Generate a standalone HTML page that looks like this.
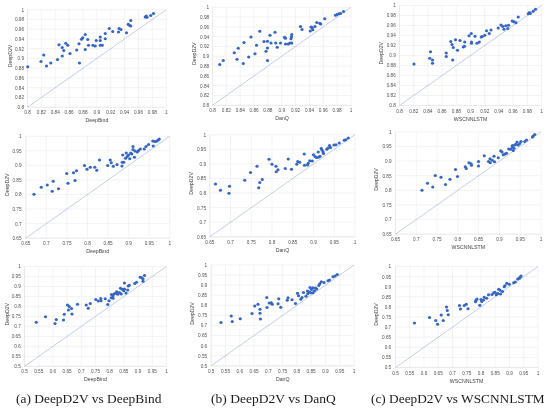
<!DOCTYPE html>
<html><head><meta charset="utf-8"><title>DeepD2V comparison</title>
<style>
html,body{margin:0;padding:0;background:#fff;}
body{width:550px;height:412px;overflow:hidden;position:relative;font-family:"Liberation Sans",sans-serif;}
svg{position:absolute;left:0;top:0;filter:blur(0.35px);}
.tk{font-family:"Liberation Sans",sans-serif;font-size:4.7px;fill:#505050;}
.ti{font-family:"Liberation Sans",sans-serif;font-size:5.2px;fill:#444;}
.cap{position:absolute;white-space:nowrap;font-family:"Liberation Serif",serif;font-size:13.3px;color:#1a1a1a;line-height:14px;transform-origin:0 0;}
</style></head><body>
<svg width="550" height="412" viewBox="0 0 550 412">

<g>
<path d="M27.50 9.70V107.20M27.50 107.20H166.20M41.37 9.70V107.20M27.50 97.45H166.20M55.24 9.70V107.20M27.50 87.70H166.20M69.11 9.70V107.20M27.50 77.95H166.20M82.98 9.70V107.20M27.50 68.20H166.20M96.85 9.70V107.20M27.50 58.45H166.20M110.72 9.70V107.20M27.50 48.70H166.20M124.59 9.70V107.20M27.50 38.95H166.20M138.46 9.70V107.20M27.50 29.20H166.20M152.33 9.70V107.20M27.50 19.45H166.20M166.20 9.70V107.20M27.50 9.70H166.20" stroke="#eeeeee" stroke-width="0.7" fill="none"/>
<path d="M27.50 9.70V107.20H166.20" stroke="#e6e6e6" stroke-width="0.7" fill="none"/>
<line x1="27.50" y1="107.20" x2="166.20" y2="9.70" stroke="#9fb4e2" stroke-width="0.65"/>
<text class="tk" x="27.50" y="114.20" text-anchor="middle">0.8</text>
<text class="tk" x="24.00" y="109.10" text-anchor="end">0.8</text>
<text class="tk" x="41.37" y="114.20" text-anchor="middle">0.82</text>
<text class="tk" x="24.00" y="99.35" text-anchor="end">0.82</text>
<text class="tk" x="55.24" y="114.20" text-anchor="middle">0.84</text>
<text class="tk" x="24.00" y="89.60" text-anchor="end">0.84</text>
<text class="tk" x="69.11" y="114.20" text-anchor="middle">0.86</text>
<text class="tk" x="24.00" y="79.85" text-anchor="end">0.86</text>
<text class="tk" x="82.98" y="114.20" text-anchor="middle">0.88</text>
<text class="tk" x="24.00" y="70.10" text-anchor="end">0.88</text>
<text class="tk" x="96.85" y="114.20" text-anchor="middle">0.9</text>
<text class="tk" x="24.00" y="60.35" text-anchor="end">0.9</text>
<text class="tk" x="110.72" y="114.20" text-anchor="middle">0.92</text>
<text class="tk" x="24.00" y="50.60" text-anchor="end">0.92</text>
<text class="tk" x="124.59" y="114.20" text-anchor="middle">0.94</text>
<text class="tk" x="24.00" y="40.85" text-anchor="end">0.94</text>
<text class="tk" x="138.46" y="114.20" text-anchor="middle">0.96</text>
<text class="tk" x="24.00" y="31.10" text-anchor="end">0.96</text>
<text class="tk" x="152.33" y="114.20" text-anchor="middle">0.98</text>
<text class="tk" x="24.00" y="21.35" text-anchor="end">0.98</text>
<text class="tk" x="166.20" y="114.20" text-anchor="middle">1</text>
<text class="tk" x="24.00" y="11.60" text-anchor="end">1</text>
<text class="ti" x="96.90" y="121.80" text-anchor="middle">DeepBind</text>
<text class="ti" transform="translate(11.50 56.00) rotate(-90)" text-anchor="middle">DeepD2V</text>
<circle cx="27.75" cy="66.75" r="1.6" fill="#3566c4"/>
<circle cx="41.00" cy="61.50" r="1.6" fill="#3566c4"/>
<circle cx="43.75" cy="55.00" r="1.6" fill="#3566c4"/>
<circle cx="46.50" cy="66.00" r="1.6" fill="#3566c4"/>
<circle cx="50.75" cy="63.00" r="1.6" fill="#3566c4"/>
<circle cx="57.50" cy="59.50" r="1.6" fill="#3566c4"/>
<circle cx="59.00" cy="44.75" r="1.6" fill="#3566c4"/>
<circle cx="62.25" cy="56.00" r="1.6" fill="#3566c4"/>
<circle cx="62.25" cy="47.50" r="1.6" fill="#3566c4"/>
<circle cx="63.75" cy="50.50" r="1.6" fill="#3566c4"/>
<circle cx="65.75" cy="43.25" r="1.6" fill="#3566c4"/>
<circle cx="67.75" cy="45.25" r="1.6" fill="#3566c4"/>
<circle cx="70.00" cy="53.50" r="1.6" fill="#3566c4"/>
<circle cx="76.75" cy="50.00" r="1.6" fill="#3566c4"/>
<circle cx="79.00" cy="43.75" r="1.6" fill="#3566c4"/>
<circle cx="79.50" cy="63.00" r="1.6" fill="#3566c4"/>
<circle cx="81.50" cy="39.25" r="1.6" fill="#3566c4"/>
<circle cx="82.75" cy="37.75" r="1.6" fill="#3566c4"/>
<circle cx="85.25" cy="34.50" r="1.6" fill="#3566c4"/>
<circle cx="85.25" cy="49.50" r="1.6" fill="#3566c4"/>
<circle cx="87.75" cy="39.50" r="1.6" fill="#3566c4"/>
<circle cx="88.50" cy="45.25" r="1.6" fill="#3566c4"/>
<circle cx="93.00" cy="45.25" r="1.6" fill="#3566c4"/>
<circle cx="95.25" cy="46.00" r="1.6" fill="#3566c4"/>
<circle cx="96.25" cy="40.50" r="1.6" fill="#3566c4"/>
<circle cx="100.25" cy="37.00" r="1.6" fill="#3566c4"/>
<circle cx="100.25" cy="40.50" r="1.6" fill="#3566c4"/>
<circle cx="100.25" cy="45.25" r="1.6" fill="#3566c4"/>
<circle cx="102.25" cy="45.25" r="1.6" fill="#3566c4"/>
<circle cx="105.25" cy="33.50" r="1.6" fill="#3566c4"/>
<circle cx="105.25" cy="38.75" r="1.6" fill="#3566c4"/>
<circle cx="109.25" cy="28.50" r="1.6" fill="#3566c4"/>
<circle cx="112.75" cy="31.50" r="1.6" fill="#3566c4"/>
<circle cx="118.50" cy="32.00" r="1.6" fill="#3566c4"/>
<circle cx="119.00" cy="28.50" r="1.6" fill="#3566c4"/>
<circle cx="121.00" cy="29.50" r="1.6" fill="#3566c4"/>
<circle cx="126.50" cy="32.75" r="1.6" fill="#3566c4"/>
<circle cx="128.25" cy="24.25" r="1.6" fill="#3566c4"/>
<circle cx="129.50" cy="25.25" r="1.6" fill="#3566c4"/>
<circle cx="130.75" cy="26.00" r="1.6" fill="#3566c4"/>
<circle cx="130.75" cy="20.50" r="1.6" fill="#3566c4"/>
<circle cx="145.25" cy="17.00" r="1.6" fill="#3566c4"/>
<circle cx="146.25" cy="16.00" r="1.6" fill="#3566c4"/>
<circle cx="147.00" cy="17.25" r="1.6" fill="#3566c4"/>
<circle cx="150.75" cy="15.50" r="1.6" fill="#3566c4"/>
<circle cx="153.50" cy="13.50" r="1.6" fill="#3566c4"/>
</g>
<g>
<path d="M212.50 7.20V105.30M212.50 105.30H351.00M226.35 7.20V105.30M212.50 95.49H351.00M240.20 7.20V105.30M212.50 85.68H351.00M254.05 7.20V105.30M212.50 75.87H351.00M267.90 7.20V105.30M212.50 66.06H351.00M281.75 7.20V105.30M212.50 56.25H351.00M295.60 7.20V105.30M212.50 46.44H351.00M309.45 7.20V105.30M212.50 36.63H351.00M323.30 7.20V105.30M212.50 26.82H351.00M337.15 7.20V105.30M212.50 17.01H351.00M351.00 7.20V105.30M212.50 7.20H351.00" stroke="#eeeeee" stroke-width="0.7" fill="none"/>
<path d="M212.50 7.20V105.30H351.00" stroke="#e6e6e6" stroke-width="0.7" fill="none"/>
<line x1="212.50" y1="105.30" x2="351.00" y2="7.20" stroke="#9fb4e2" stroke-width="0.65"/>
<text class="tk" x="212.50" y="111.80" text-anchor="middle">0.8</text>
<text class="tk" x="209.20" y="107.20" text-anchor="end">0.8</text>
<text class="tk" x="226.35" y="111.80" text-anchor="middle">0.82</text>
<text class="tk" x="209.20" y="97.39" text-anchor="end">0.82</text>
<text class="tk" x="240.20" y="111.80" text-anchor="middle">0.84</text>
<text class="tk" x="209.20" y="87.58" text-anchor="end">0.84</text>
<text class="tk" x="254.05" y="111.80" text-anchor="middle">0.86</text>
<text class="tk" x="209.20" y="77.77" text-anchor="end">0.86</text>
<text class="tk" x="267.90" y="111.80" text-anchor="middle">0.88</text>
<text class="tk" x="209.20" y="67.96" text-anchor="end">0.88</text>
<text class="tk" x="281.75" y="111.80" text-anchor="middle">0.9</text>
<text class="tk" x="209.20" y="58.15" text-anchor="end">0.9</text>
<text class="tk" x="295.60" y="111.80" text-anchor="middle">0.92</text>
<text class="tk" x="209.20" y="48.34" text-anchor="end">0.92</text>
<text class="tk" x="309.45" y="111.80" text-anchor="middle">0.94</text>
<text class="tk" x="209.20" y="38.53" text-anchor="end">0.94</text>
<text class="tk" x="323.30" y="111.80" text-anchor="middle">0.96</text>
<text class="tk" x="209.20" y="28.72" text-anchor="end">0.96</text>
<text class="tk" x="337.15" y="111.80" text-anchor="middle">0.98</text>
<text class="tk" x="209.20" y="18.91" text-anchor="end">0.98</text>
<text class="tk" x="351.00" y="111.80" text-anchor="middle">1</text>
<text class="tk" x="209.20" y="9.10" text-anchor="end">1</text>
<text class="ti" x="282.05" y="119.50" text-anchor="middle">DanQ</text>
<text class="ti" transform="translate(196.30 53.75) rotate(-90)" text-anchor="middle">DeepD2V</text>
<circle cx="219.75" cy="64.50" r="1.6" fill="#3566c4"/>
<circle cx="223.25" cy="60.50" r="1.6" fill="#3566c4"/>
<circle cx="234.25" cy="52.75" r="1.6" fill="#3566c4"/>
<circle cx="237.00" cy="59.25" r="1.6" fill="#3566c4"/>
<circle cx="238.25" cy="48.25" r="1.6" fill="#3566c4"/>
<circle cx="243.25" cy="63.50" r="1.6" fill="#3566c4"/>
<circle cx="244.00" cy="42.50" r="1.6" fill="#3566c4"/>
<circle cx="248.75" cy="57.00" r="1.6" fill="#3566c4"/>
<circle cx="251.00" cy="37.00" r="1.6" fill="#3566c4"/>
<circle cx="255.00" cy="53.75" r="1.6" fill="#3566c4"/>
<circle cx="256.50" cy="45.25" r="1.6" fill="#3566c4"/>
<circle cx="259.75" cy="31.25" r="1.6" fill="#3566c4"/>
<circle cx="264.00" cy="41.50" r="1.6" fill="#3566c4"/>
<circle cx="266.00" cy="51.25" r="1.6" fill="#3566c4"/>
<circle cx="267.50" cy="41.25" r="1.6" fill="#3566c4"/>
<circle cx="267.50" cy="48.00" r="1.6" fill="#3566c4"/>
<circle cx="267.50" cy="60.50" r="1.6" fill="#3566c4"/>
<circle cx="270.00" cy="35.25" r="1.6" fill="#3566c4"/>
<circle cx="271.00" cy="43.00" r="1.6" fill="#3566c4"/>
<circle cx="275.00" cy="32.25" r="1.6" fill="#3566c4"/>
<circle cx="275.75" cy="43.00" r="1.6" fill="#3566c4"/>
<circle cx="277.25" cy="47.25" r="1.6" fill="#3566c4"/>
<circle cx="280.50" cy="43.00" r="1.6" fill="#3566c4"/>
<circle cx="284.50" cy="37.25" r="1.6" fill="#3566c4"/>
<circle cx="285.50" cy="38.25" r="1.6" fill="#3566c4"/>
<circle cx="285.50" cy="44.00" r="1.6" fill="#3566c4"/>
<circle cx="288.25" cy="44.00" r="1.6" fill="#3566c4"/>
<circle cx="290.00" cy="43.00" r="1.6" fill="#3566c4"/>
<circle cx="291.75" cy="43.00" r="1.6" fill="#3566c4"/>
<circle cx="291.00" cy="38.75" r="1.6" fill="#3566c4"/>
<circle cx="291.50" cy="36.75" r="1.6" fill="#3566c4"/>
<circle cx="291.75" cy="34.50" r="1.6" fill="#3566c4"/>
<circle cx="300.50" cy="26.50" r="1.6" fill="#3566c4"/>
<circle cx="302.00" cy="29.50" r="1.6" fill="#3566c4"/>
<circle cx="310.25" cy="31.00" r="1.6" fill="#3566c4"/>
<circle cx="311.00" cy="27.00" r="1.6" fill="#3566c4"/>
<circle cx="312.25" cy="27.75" r="1.6" fill="#3566c4"/>
<circle cx="312.75" cy="29.75" r="1.6" fill="#3566c4"/>
<circle cx="315.00" cy="26.50" r="1.6" fill="#3566c4"/>
<circle cx="316.75" cy="22.50" r="1.6" fill="#3566c4"/>
<circle cx="319.75" cy="23.25" r="1.6" fill="#3566c4"/>
<circle cx="320.75" cy="24.00" r="1.6" fill="#3566c4"/>
<circle cx="324.75" cy="18.75" r="1.6" fill="#3566c4"/>
<circle cx="335.50" cy="15.25" r="1.6" fill="#3566c4"/>
<circle cx="337.00" cy="14.50" r="1.6" fill="#3566c4"/>
<circle cx="338.75" cy="13.75" r="1.6" fill="#3566c4"/>
<circle cx="340.50" cy="13.50" r="1.6" fill="#3566c4"/>
<circle cx="343.50" cy="11.50" r="1.6" fill="#3566c4"/>
</g>
<g>
<path d="M399.50 5.50V105.50M399.50 105.50H541.50M413.70 5.50V105.50M399.50 95.50H541.50M427.90 5.50V105.50M399.50 85.50H541.50M442.10 5.50V105.50M399.50 75.50H541.50M456.30 5.50V105.50M399.50 65.50H541.50M470.50 5.50V105.50M399.50 55.50H541.50M484.70 5.50V105.50M399.50 45.50H541.50M498.90 5.50V105.50M399.50 35.50H541.50M513.10 5.50V105.50M399.50 25.50H541.50M527.30 5.50V105.50M399.50 15.50H541.50M541.50 5.50V105.50M399.50 5.50H541.50" stroke="#eeeeee" stroke-width="0.7" fill="none"/>
<path d="M399.50 5.50V105.50H541.50" stroke="#e6e6e6" stroke-width="0.7" fill="none"/>
<line x1="399.50" y1="105.50" x2="541.50" y2="5.50" stroke="#9fb4e2" stroke-width="0.65"/>
<text class="tk" x="399.50" y="112.50" text-anchor="middle">0.8</text>
<text class="tk" x="395.80" y="107.40" text-anchor="end">0.8</text>
<text class="tk" x="413.70" y="112.50" text-anchor="middle">0.82</text>
<text class="tk" x="395.80" y="97.40" text-anchor="end">0.82</text>
<text class="tk" x="427.90" y="112.50" text-anchor="middle">0.84</text>
<text class="tk" x="395.80" y="87.40" text-anchor="end">0.84</text>
<text class="tk" x="442.10" y="112.50" text-anchor="middle">0.86</text>
<text class="tk" x="395.80" y="77.40" text-anchor="end">0.86</text>
<text class="tk" x="456.30" y="112.50" text-anchor="middle">0.88</text>
<text class="tk" x="395.80" y="67.40" text-anchor="end">0.88</text>
<text class="tk" x="470.50" y="112.50" text-anchor="middle">0.9</text>
<text class="tk" x="395.80" y="57.40" text-anchor="end">0.9</text>
<text class="tk" x="484.70" y="112.50" text-anchor="middle">0.92</text>
<text class="tk" x="395.80" y="47.40" text-anchor="end">0.92</text>
<text class="tk" x="498.90" y="112.50" text-anchor="middle">0.94</text>
<text class="tk" x="395.80" y="37.40" text-anchor="end">0.94</text>
<text class="tk" x="513.10" y="112.50" text-anchor="middle">0.96</text>
<text class="tk" x="395.80" y="27.40" text-anchor="end">0.96</text>
<text class="tk" x="527.30" y="112.50" text-anchor="middle">0.98</text>
<text class="tk" x="395.80" y="17.40" text-anchor="end">0.98</text>
<text class="tk" x="541.50" y="112.50" text-anchor="middle">1</text>
<text class="tk" x="395.80" y="7.40" text-anchor="end">1</text>
<text class="ti" x="470.50" y="120.50" text-anchor="middle">WSCNNLSTM</text>
<text class="ti" transform="translate(382.60 53.20) rotate(-90)" text-anchor="middle">DeepD2V</text>
<circle cx="414.00" cy="64.00" r="1.6" fill="#3566c4"/>
<circle cx="429.75" cy="58.25" r="1.6" fill="#3566c4"/>
<circle cx="430.50" cy="51.75" r="1.6" fill="#3566c4"/>
<circle cx="432.50" cy="60.00" r="1.6" fill="#3566c4"/>
<circle cx="432.50" cy="63.25" r="1.6" fill="#3566c4"/>
<circle cx="446.25" cy="53.00" r="1.6" fill="#3566c4"/>
<circle cx="446.25" cy="56.50" r="1.6" fill="#3566c4"/>
<circle cx="450.75" cy="41.50" r="1.6" fill="#3566c4"/>
<circle cx="452.00" cy="44.50" r="1.6" fill="#3566c4"/>
<circle cx="453.25" cy="47.50" r="1.6" fill="#3566c4"/>
<circle cx="452.75" cy="60.00" r="1.6" fill="#3566c4"/>
<circle cx="455.50" cy="39.75" r="1.6" fill="#3566c4"/>
<circle cx="457.50" cy="50.25" r="1.6" fill="#3566c4"/>
<circle cx="460.00" cy="40.50" r="1.6" fill="#3566c4"/>
<circle cx="463.25" cy="47.00" r="1.6" fill="#3566c4"/>
<circle cx="464.50" cy="46.25" r="1.6" fill="#3566c4"/>
<circle cx="464.75" cy="42.00" r="1.6" fill="#3566c4"/>
<circle cx="469.00" cy="35.75" r="1.6" fill="#3566c4"/>
<circle cx="471.25" cy="33.50" r="1.6" fill="#3566c4"/>
<circle cx="471.50" cy="42.00" r="1.6" fill="#3566c4"/>
<circle cx="471.50" cy="43.25" r="1.6" fill="#3566c4"/>
<circle cx="475.00" cy="36.25" r="1.6" fill="#3566c4"/>
<circle cx="477.00" cy="43.25" r="1.6" fill="#3566c4"/>
<circle cx="479.25" cy="42.00" r="1.6" fill="#3566c4"/>
<circle cx="481.25" cy="37.00" r="1.6" fill="#3566c4"/>
<circle cx="482.25" cy="36.50" r="1.6" fill="#3566c4"/>
<circle cx="484.75" cy="35.25" r="1.6" fill="#3566c4"/>
<circle cx="486.50" cy="30.75" r="1.6" fill="#3566c4"/>
<circle cx="489.25" cy="33.50" r="1.6" fill="#3566c4"/>
<circle cx="491.00" cy="30.00" r="1.6" fill="#3566c4"/>
<circle cx="498.25" cy="28.00" r="1.6" fill="#3566c4"/>
<circle cx="501.00" cy="25.00" r="1.6" fill="#3566c4"/>
<circle cx="502.75" cy="26.50" r="1.6" fill="#3566c4"/>
<circle cx="504.00" cy="29.25" r="1.6" fill="#3566c4"/>
<circle cx="505.75" cy="25.75" r="1.6" fill="#3566c4"/>
<circle cx="507.75" cy="28.50" r="1.6" fill="#3566c4"/>
<circle cx="508.50" cy="25.25" r="1.6" fill="#3566c4"/>
<circle cx="512.25" cy="21.00" r="1.6" fill="#3566c4"/>
<circle cx="514.00" cy="21.75" r="1.6" fill="#3566c4"/>
<circle cx="516.00" cy="22.75" r="1.6" fill="#3566c4"/>
<circle cx="518.25" cy="17.00" r="1.6" fill="#3566c4"/>
<circle cx="528.25" cy="13.75" r="1.6" fill="#3566c4"/>
<circle cx="529.50" cy="12.50" r="1.6" fill="#3566c4"/>
<circle cx="530.25" cy="13.50" r="1.6" fill="#3566c4"/>
<circle cx="533.25" cy="11.25" r="1.6" fill="#3566c4"/>
<circle cx="535.50" cy="9.25" r="1.6" fill="#3566c4"/>
</g>
<g>
<path d="M25.80 136.20V238.20M25.80 238.20H169.80M46.37 136.20V238.20M25.80 223.63H169.80M66.94 136.20V238.20M25.80 209.06H169.80M87.51 136.20V238.20M25.80 194.49H169.80M108.09 136.20V238.20M25.80 179.91H169.80M128.66 136.20V238.20M25.80 165.34H169.80M149.23 136.20V238.20M25.80 150.77H169.80M169.80 136.20V238.20M25.80 136.20H169.80" stroke="#eeeeee" stroke-width="0.7" fill="none"/>
<path d="M25.80 136.20V238.20H169.80" stroke="#e6e6e6" stroke-width="0.7" fill="none"/>
<line x1="25.80" y1="238.20" x2="169.80" y2="136.20" stroke="#9fb4e2" stroke-width="0.65"/>
<text class="tk" x="25.80" y="244.80" text-anchor="middle">0.65</text>
<text class="tk" x="21.50" y="240.10" text-anchor="end">0.65</text>
<text class="tk" x="46.37" y="244.80" text-anchor="middle">0.7</text>
<text class="tk" x="21.50" y="225.53" text-anchor="end">0.7</text>
<text class="tk" x="66.94" y="244.80" text-anchor="middle">0.75</text>
<text class="tk" x="21.50" y="210.96" text-anchor="end">0.75</text>
<text class="tk" x="87.51" y="244.80" text-anchor="middle">0.8</text>
<text class="tk" x="21.50" y="196.39" text-anchor="end">0.8</text>
<text class="tk" x="108.09" y="244.80" text-anchor="middle">0.85</text>
<text class="tk" x="21.50" y="181.81" text-anchor="end">0.85</text>
<text class="tk" x="128.66" y="244.80" text-anchor="middle">0.9</text>
<text class="tk" x="21.50" y="167.24" text-anchor="end">0.9</text>
<text class="tk" x="149.23" y="244.80" text-anchor="middle">0.95</text>
<text class="tk" x="21.50" y="152.67" text-anchor="end">0.95</text>
<text class="tk" x="169.80" y="244.80" text-anchor="middle">1</text>
<text class="tk" x="21.50" y="138.10" text-anchor="end">1</text>
<text class="ti" x="97.75" y="252.80" text-anchor="middle">DeepBind</text>
<text class="ti" transform="translate(8.60 184.75) rotate(-90)" text-anchor="middle">DeepD2V</text>
<circle cx="34.00" cy="194.25" r="1.6" fill="#3566c4"/>
<circle cx="41.25" cy="187.25" r="1.6" fill="#3566c4"/>
<circle cx="47.25" cy="185.00" r="1.6" fill="#3566c4"/>
<circle cx="52.25" cy="191.25" r="1.6" fill="#3566c4"/>
<circle cx="53.25" cy="181.25" r="1.6" fill="#3566c4"/>
<circle cx="58.50" cy="188.75" r="1.6" fill="#3566c4"/>
<circle cx="66.75" cy="173.50" r="1.6" fill="#3566c4"/>
<circle cx="68.00" cy="183.25" r="1.6" fill="#3566c4"/>
<circle cx="73.50" cy="172.75" r="1.6" fill="#3566c4"/>
<circle cx="75.00" cy="180.50" r="1.6" fill="#3566c4"/>
<circle cx="76.50" cy="170.75" r="1.6" fill="#3566c4"/>
<circle cx="84.50" cy="165.50" r="1.6" fill="#3566c4"/>
<circle cx="87.00" cy="169.25" r="1.6" fill="#3566c4"/>
<circle cx="90.25" cy="167.25" r="1.6" fill="#3566c4"/>
<circle cx="94.75" cy="167.25" r="1.6" fill="#3566c4"/>
<circle cx="96.75" cy="170.25" r="1.6" fill="#3566c4"/>
<circle cx="99.50" cy="160.00" r="1.6" fill="#3566c4"/>
<circle cx="107.75" cy="165.50" r="1.6" fill="#3566c4"/>
<circle cx="110.25" cy="160.00" r="1.6" fill="#3566c4"/>
<circle cx="111.25" cy="162.75" r="1.6" fill="#3566c4"/>
<circle cx="113.25" cy="166.25" r="1.6" fill="#3566c4"/>
<circle cx="117.00" cy="164.50" r="1.6" fill="#3566c4"/>
<circle cx="122.00" cy="166.00" r="1.6" fill="#3566c4"/>
<circle cx="122.25" cy="162.25" r="1.6" fill="#3566c4"/>
<circle cx="123.75" cy="162.25" r="1.6" fill="#3566c4"/>
<circle cx="122.75" cy="155.00" r="1.6" fill="#3566c4"/>
<circle cx="125.50" cy="158.25" r="1.6" fill="#3566c4"/>
<circle cx="126.25" cy="153.00" r="1.6" fill="#3566c4"/>
<circle cx="127.25" cy="156.50" r="1.6" fill="#3566c4"/>
<circle cx="128.50" cy="155.00" r="1.6" fill="#3566c4"/>
<circle cx="129.75" cy="158.75" r="1.6" fill="#3566c4"/>
<circle cx="130.75" cy="153.00" r="1.6" fill="#3566c4"/>
<circle cx="131.75" cy="154.00" r="1.6" fill="#3566c4"/>
<circle cx="133.00" cy="146.50" r="1.6" fill="#3566c4"/>
<circle cx="133.00" cy="149.50" r="1.6" fill="#3566c4"/>
<circle cx="134.50" cy="157.25" r="1.6" fill="#3566c4"/>
<circle cx="135.00" cy="151.00" r="1.6" fill="#3566c4"/>
<circle cx="137.25" cy="152.00" r="1.6" fill="#3566c4"/>
<circle cx="138.50" cy="150.50" r="1.6" fill="#3566c4"/>
<circle cx="140.25" cy="149.00" r="1.6" fill="#3566c4"/>
<circle cx="144.25" cy="149.00" r="1.6" fill="#3566c4"/>
<circle cx="146.00" cy="146.50" r="1.6" fill="#3566c4"/>
<circle cx="148.50" cy="144.50" r="1.6" fill="#3566c4"/>
<circle cx="152.75" cy="141.00" r="1.6" fill="#3566c4"/>
<circle cx="153.25" cy="146.00" r="1.6" fill="#3566c4"/>
<circle cx="154.75" cy="141.50" r="1.6" fill="#3566c4"/>
<circle cx="156.50" cy="141.25" r="1.6" fill="#3566c4"/>
<circle cx="158.00" cy="140.25" r="1.6" fill="#3566c4"/>
<circle cx="159.25" cy="139.00" r="1.6" fill="#3566c4"/>
</g>
<g>
<path d="M209.80 134.70V236.80M209.80 236.80H355.00M230.54 134.70V236.80M209.80 222.21H355.00M251.29 134.70V236.80M209.80 207.63H355.00M272.03 134.70V236.80M209.80 193.04H355.00M292.77 134.70V236.80M209.80 178.46H355.00M313.51 134.70V236.80M209.80 163.87H355.00M334.26 134.70V236.80M209.80 149.29H355.00M355.00 134.70V236.80M209.80 134.70H355.00" stroke="#eeeeee" stroke-width="0.7" fill="none"/>
<path d="M209.80 134.70V236.80H355.00" stroke="#e6e6e6" stroke-width="0.7" fill="none"/>
<line x1="209.80" y1="236.80" x2="355.00" y2="134.70" stroke="#9fb4e2" stroke-width="0.65"/>
<text class="tk" x="209.80" y="243.80" text-anchor="middle">0.65</text>
<text class="tk" x="206.00" y="238.70" text-anchor="end">0.65</text>
<text class="tk" x="230.54" y="243.80" text-anchor="middle">0.7</text>
<text class="tk" x="206.00" y="224.11" text-anchor="end">0.7</text>
<text class="tk" x="251.29" y="243.80" text-anchor="middle">0.75</text>
<text class="tk" x="206.00" y="209.53" text-anchor="end">0.75</text>
<text class="tk" x="272.03" y="243.80" text-anchor="middle">0.8</text>
<text class="tk" x="206.00" y="194.94" text-anchor="end">0.8</text>
<text class="tk" x="292.77" y="243.80" text-anchor="middle">0.85</text>
<text class="tk" x="206.00" y="180.36" text-anchor="end">0.85</text>
<text class="tk" x="313.51" y="243.80" text-anchor="middle">0.9</text>
<text class="tk" x="206.00" y="165.77" text-anchor="end">0.9</text>
<text class="tk" x="334.26" y="243.80" text-anchor="middle">0.95</text>
<text class="tk" x="206.00" y="151.19" text-anchor="end">0.95</text>
<text class="tk" x="355.00" y="243.80" text-anchor="middle">1</text>
<text class="tk" x="206.00" y="136.60" text-anchor="end">1</text>
<text class="ti" x="282.50" y="252.00" text-anchor="middle">DanQ</text>
<text class="ti" transform="translate(192.90 183.40) rotate(-90)" text-anchor="middle">DeepD2V</text>
<circle cx="215.50" cy="184.00" r="1.6" fill="#3566c4"/>
<circle cx="220.50" cy="190.25" r="1.6" fill="#3566c4"/>
<circle cx="229.00" cy="193.25" r="1.6" fill="#3566c4"/>
<circle cx="229.50" cy="186.25" r="1.6" fill="#3566c4"/>
<circle cx="244.75" cy="180.25" r="1.6" fill="#3566c4"/>
<circle cx="250.50" cy="172.50" r="1.6" fill="#3566c4"/>
<circle cx="257.00" cy="166.25" r="1.6" fill="#3566c4"/>
<circle cx="258.75" cy="187.75" r="1.6" fill="#3566c4"/>
<circle cx="259.75" cy="182.50" r="1.6" fill="#3566c4"/>
<circle cx="262.25" cy="179.50" r="1.6" fill="#3566c4"/>
<circle cx="269.00" cy="159.25" r="1.6" fill="#3566c4"/>
<circle cx="272.00" cy="164.25" r="1.6" fill="#3566c4"/>
<circle cx="276.00" cy="166.25" r="1.6" fill="#3566c4"/>
<circle cx="276.25" cy="171.75" r="1.6" fill="#3566c4"/>
<circle cx="278.00" cy="169.75" r="1.6" fill="#3566c4"/>
<circle cx="285.25" cy="168.50" r="1.6" fill="#3566c4"/>
<circle cx="288.25" cy="159.00" r="1.6" fill="#3566c4"/>
<circle cx="291.50" cy="169.25" r="1.6" fill="#3566c4"/>
<circle cx="296.75" cy="164.25" r="1.6" fill="#3566c4"/>
<circle cx="297.75" cy="161.50" r="1.6" fill="#3566c4"/>
<circle cx="299.75" cy="162.25" r="1.6" fill="#3566c4"/>
<circle cx="304.25" cy="154.00" r="1.6" fill="#3566c4"/>
<circle cx="304.50" cy="165.25" r="1.6" fill="#3566c4"/>
<circle cx="307.50" cy="165.00" r="1.6" fill="#3566c4"/>
<circle cx="308.25" cy="163.25" r="1.6" fill="#3566c4"/>
<circle cx="309.75" cy="160.75" r="1.6" fill="#3566c4"/>
<circle cx="312.25" cy="161.00" r="1.6" fill="#3566c4"/>
<circle cx="313.50" cy="154.75" r="1.6" fill="#3566c4"/>
<circle cx="315.00" cy="156.50" r="1.6" fill="#3566c4"/>
<circle cx="316.50" cy="157.50" r="1.6" fill="#3566c4"/>
<circle cx="318.25" cy="152.00" r="1.6" fill="#3566c4"/>
<circle cx="318.50" cy="157.25" r="1.6" fill="#3566c4"/>
<circle cx="320.00" cy="156.25" r="1.6" fill="#3566c4"/>
<circle cx="321.25" cy="148.50" r="1.6" fill="#3566c4"/>
<circle cx="322.00" cy="150.00" r="1.6" fill="#3566c4"/>
<circle cx="323.00" cy="151.75" r="1.6" fill="#3566c4"/>
<circle cx="323.50" cy="153.50" r="1.6" fill="#3566c4"/>
<circle cx="326.75" cy="149.25" r="1.6" fill="#3566c4"/>
<circle cx="328.00" cy="148.00" r="1.6" fill="#3566c4"/>
<circle cx="329.50" cy="145.50" r="1.6" fill="#3566c4"/>
<circle cx="330.50" cy="147.50" r="1.6" fill="#3566c4"/>
<circle cx="334.00" cy="145.00" r="1.6" fill="#3566c4"/>
<circle cx="336.00" cy="144.75" r="1.6" fill="#3566c4"/>
<circle cx="339.25" cy="143.00" r="1.6" fill="#3566c4"/>
<circle cx="344.25" cy="140.25" r="1.6" fill="#3566c4"/>
<circle cx="345.75" cy="139.75" r="1.6" fill="#3566c4"/>
<circle cx="348.25" cy="138.00" r="1.6" fill="#3566c4"/>
</g>
<g>
<path d="M395.50 131.80V234.20M395.50 234.20H541.00M416.29 131.80V234.20M395.50 219.57H541.00M437.07 131.80V234.20M395.50 204.94H541.00M457.86 131.80V234.20M395.50 190.31H541.00M478.64 131.80V234.20M395.50 175.69H541.00M499.43 131.80V234.20M395.50 161.06H541.00M520.21 131.80V234.20M395.50 146.43H541.00M541.00 131.80V234.20M395.50 131.80H541.00" stroke="#eeeeee" stroke-width="0.7" fill="none"/>
<path d="M395.50 131.80V234.20H541.00" stroke="#e6e6e6" stroke-width="0.7" fill="none"/>
<line x1="395.50" y1="234.20" x2="541.00" y2="131.80" stroke="#9fb4e2" stroke-width="0.65"/>
<text class="tk" x="395.50" y="240.80" text-anchor="middle">0.65</text>
<text class="tk" x="391.50" y="236.10" text-anchor="end">0.65</text>
<text class="tk" x="416.29" y="240.80" text-anchor="middle">0.7</text>
<text class="tk" x="391.50" y="221.47" text-anchor="end">0.7</text>
<text class="tk" x="437.07" y="240.80" text-anchor="middle">0.75</text>
<text class="tk" x="391.50" y="206.84" text-anchor="end">0.75</text>
<text class="tk" x="457.86" y="240.80" text-anchor="middle">0.8</text>
<text class="tk" x="391.50" y="192.21" text-anchor="end">0.8</text>
<text class="tk" x="478.64" y="240.80" text-anchor="middle">0.85</text>
<text class="tk" x="391.50" y="177.59" text-anchor="end">0.85</text>
<text class="tk" x="499.43" y="240.80" text-anchor="middle">0.9</text>
<text class="tk" x="391.50" y="162.96" text-anchor="end">0.9</text>
<text class="tk" x="520.21" y="240.80" text-anchor="middle">0.95</text>
<text class="tk" x="391.50" y="148.33" text-anchor="end">0.95</text>
<text class="tk" x="541.00" y="240.80" text-anchor="middle">1</text>
<text class="tk" x="391.50" y="133.70" text-anchor="end">1</text>
<text class="ti" x="468.25" y="249.00" text-anchor="middle">WSCNNLSTM</text>
<text class="ti" transform="translate(378.10 179.50) rotate(-90)" text-anchor="middle">DeepD2V</text>
<circle cx="422.00" cy="190.25" r="1.6" fill="#3566c4"/>
<circle cx="427.50" cy="183.25" r="1.6" fill="#3566c4"/>
<circle cx="432.75" cy="187.00" r="1.6" fill="#3566c4"/>
<circle cx="435.25" cy="175.50" r="1.6" fill="#3566c4"/>
<circle cx="441.00" cy="177.25" r="1.6" fill="#3566c4"/>
<circle cx="445.50" cy="184.50" r="1.6" fill="#3566c4"/>
<circle cx="450.00" cy="179.25" r="1.6" fill="#3566c4"/>
<circle cx="455.50" cy="169.50" r="1.6" fill="#3566c4"/>
<circle cx="457.50" cy="176.50" r="1.6" fill="#3566c4"/>
<circle cx="465.25" cy="166.75" r="1.6" fill="#3566c4"/>
<circle cx="466.25" cy="168.50" r="1.6" fill="#3566c4"/>
<circle cx="469.00" cy="162.75" r="1.6" fill="#3566c4"/>
<circle cx="471.00" cy="163.75" r="1.6" fill="#3566c4"/>
<circle cx="471.50" cy="165.25" r="1.6" fill="#3566c4"/>
<circle cx="478.50" cy="161.50" r="1.6" fill="#3566c4"/>
<circle cx="478.50" cy="166.00" r="1.6" fill="#3566c4"/>
<circle cx="484.25" cy="155.75" r="1.6" fill="#3566c4"/>
<circle cx="488.50" cy="161.50" r="1.6" fill="#3566c4"/>
<circle cx="490.00" cy="158.75" r="1.6" fill="#3566c4"/>
<circle cx="490.25" cy="162.75" r="1.6" fill="#3566c4"/>
<circle cx="492.25" cy="160.25" r="1.6" fill="#3566c4"/>
<circle cx="494.00" cy="156.25" r="1.6" fill="#3566c4"/>
<circle cx="494.50" cy="161.75" r="1.6" fill="#3566c4"/>
<circle cx="498.25" cy="157.75" r="1.6" fill="#3566c4"/>
<circle cx="500.75" cy="150.75" r="1.6" fill="#3566c4"/>
<circle cx="502.00" cy="152.00" r="1.6" fill="#3566c4"/>
<circle cx="503.25" cy="154.75" r="1.6" fill="#3566c4"/>
<circle cx="505.00" cy="154.00" r="1.6" fill="#3566c4"/>
<circle cx="506.50" cy="153.25" r="1.6" fill="#3566c4"/>
<circle cx="508.75" cy="149.00" r="1.6" fill="#3566c4"/>
<circle cx="510.75" cy="149.25" r="1.6" fill="#3566c4"/>
<circle cx="512.25" cy="147.00" r="1.6" fill="#3566c4"/>
<circle cx="512.50" cy="145.50" r="1.6" fill="#3566c4"/>
<circle cx="513.25" cy="150.50" r="1.6" fill="#3566c4"/>
<circle cx="514.00" cy="148.25" r="1.6" fill="#3566c4"/>
<circle cx="514.75" cy="145.00" r="1.6" fill="#3566c4"/>
<circle cx="516.00" cy="144.25" r="1.6" fill="#3566c4"/>
<circle cx="517.00" cy="142.00" r="1.6" fill="#3566c4"/>
<circle cx="518.25" cy="145.00" r="1.6" fill="#3566c4"/>
<circle cx="519.75" cy="143.50" r="1.6" fill="#3566c4"/>
<circle cx="521.00" cy="141.50" r="1.6" fill="#3566c4"/>
<circle cx="524.75" cy="141.50" r="1.6" fill="#3566c4"/>
<circle cx="526.50" cy="140.00" r="1.6" fill="#3566c4"/>
<circle cx="532.50" cy="137.00" r="1.6" fill="#3566c4"/>
<circle cx="533.25" cy="136.00" r="1.6" fill="#3566c4"/>
<circle cx="534.75" cy="134.50" r="1.6" fill="#3566c4"/>
</g>
<g>
<path d="M24.50 266.50V366.30M24.50 366.30H166.50M38.70 266.50V366.30M24.50 356.32H166.50M52.90 266.50V366.30M24.50 346.34H166.50M67.10 266.50V366.30M24.50 336.36H166.50M81.30 266.50V366.30M24.50 326.38H166.50M95.50 266.50V366.30M24.50 316.40H166.50M109.70 266.50V366.30M24.50 306.42H166.50M123.90 266.50V366.30M24.50 296.44H166.50M138.10 266.50V366.30M24.50 286.46H166.50M152.30 266.50V366.30M24.50 276.48H166.50M166.50 266.50V366.30M24.50 266.50H166.50" stroke="#eeeeee" stroke-width="0.7" fill="none"/>
<path d="M24.50 266.50V366.30H166.50" stroke="#e6e6e6" stroke-width="0.7" fill="none"/>
<line x1="24.50" y1="366.30" x2="166.50" y2="266.50" stroke="#9fb4e2" stroke-width="0.65"/>
<text class="tk" x="24.50" y="372.80" text-anchor="middle">0.5</text>
<text class="tk" x="20.80" y="368.20" text-anchor="end">0.5</text>
<text class="tk" x="38.70" y="372.80" text-anchor="middle">0.55</text>
<text class="tk" x="20.80" y="358.22" text-anchor="end">0.55</text>
<text class="tk" x="52.90" y="372.80" text-anchor="middle">0.6</text>
<text class="tk" x="20.80" y="348.24" text-anchor="end">0.6</text>
<text class="tk" x="67.10" y="372.80" text-anchor="middle">0.65</text>
<text class="tk" x="20.80" y="338.26" text-anchor="end">0.65</text>
<text class="tk" x="81.30" y="372.80" text-anchor="middle">0.7</text>
<text class="tk" x="20.80" y="328.28" text-anchor="end">0.7</text>
<text class="tk" x="95.50" y="372.80" text-anchor="middle">0.75</text>
<text class="tk" x="20.80" y="318.30" text-anchor="end">0.75</text>
<text class="tk" x="109.70" y="372.80" text-anchor="middle">0.8</text>
<text class="tk" x="20.80" y="308.32" text-anchor="end">0.8</text>
<text class="tk" x="123.90" y="372.80" text-anchor="middle">0.85</text>
<text class="tk" x="20.80" y="298.34" text-anchor="end">0.85</text>
<text class="tk" x="138.10" y="372.80" text-anchor="middle">0.9</text>
<text class="tk" x="20.80" y="288.36" text-anchor="end">0.9</text>
<text class="tk" x="152.30" y="372.80" text-anchor="middle">0.95</text>
<text class="tk" x="20.80" y="278.38" text-anchor="end">0.95</text>
<text class="tk" x="166.50" y="372.80" text-anchor="middle">1</text>
<text class="tk" x="20.80" y="268.40" text-anchor="end">1</text>
<text class="ti" x="95.50" y="380.80" text-anchor="middle">DeepBind</text>
<text class="ti" transform="translate(8.50 314.20) rotate(-90)" text-anchor="middle">DeepD2V</text>
<circle cx="36.25" cy="322.25" r="1.6" fill="#3566c4"/>
<circle cx="45.50" cy="316.75" r="1.6" fill="#3566c4"/>
<circle cx="55.00" cy="323.50" r="1.6" fill="#3566c4"/>
<circle cx="56.25" cy="319.50" r="1.6" fill="#3566c4"/>
<circle cx="63.50" cy="320.00" r="1.6" fill="#3566c4"/>
<circle cx="64.25" cy="314.25" r="1.6" fill="#3566c4"/>
<circle cx="67.50" cy="305.00" r="1.6" fill="#3566c4"/>
<circle cx="68.50" cy="310.00" r="1.6" fill="#3566c4"/>
<circle cx="69.25" cy="306.50" r="1.6" fill="#3566c4"/>
<circle cx="71.50" cy="308.50" r="1.6" fill="#3566c4"/>
<circle cx="72.00" cy="314.00" r="1.6" fill="#3566c4"/>
<circle cx="77.50" cy="304.25" r="1.6" fill="#3566c4"/>
<circle cx="86.25" cy="305.00" r="1.6" fill="#3566c4"/>
<circle cx="88.25" cy="308.25" r="1.6" fill="#3566c4"/>
<circle cx="90.25" cy="303.50" r="1.6" fill="#3566c4"/>
<circle cx="95.75" cy="299.50" r="1.6" fill="#3566c4"/>
<circle cx="98.25" cy="301.00" r="1.6" fill="#3566c4"/>
<circle cx="100.75" cy="298.50" r="1.6" fill="#3566c4"/>
<circle cx="101.00" cy="300.75" r="1.6" fill="#3566c4"/>
<circle cx="105.25" cy="298.75" r="1.6" fill="#3566c4"/>
<circle cx="107.75" cy="304.50" r="1.6" fill="#3566c4"/>
<circle cx="109.00" cy="300.75" r="1.6" fill="#3566c4"/>
<circle cx="111.25" cy="297.75" r="1.6" fill="#3566c4"/>
<circle cx="111.50" cy="294.50" r="1.6" fill="#3566c4"/>
<circle cx="113.00" cy="295.75" r="1.6" fill="#3566c4"/>
<circle cx="113.00" cy="298.25" r="1.6" fill="#3566c4"/>
<circle cx="114.25" cy="293.75" r="1.6" fill="#3566c4"/>
<circle cx="116.00" cy="293.25" r="1.6" fill="#3566c4"/>
<circle cx="116.75" cy="291.75" r="1.6" fill="#3566c4"/>
<circle cx="117.75" cy="294.25" r="1.6" fill="#3566c4"/>
<circle cx="119.50" cy="292.50" r="1.6" fill="#3566c4"/>
<circle cx="120.50" cy="288.25" r="1.6" fill="#3566c4"/>
<circle cx="121.25" cy="294.00" r="1.6" fill="#3566c4"/>
<circle cx="122.25" cy="289.25" r="1.6" fill="#3566c4"/>
<circle cx="123.75" cy="290.75" r="1.6" fill="#3566c4"/>
<circle cx="124.50" cy="283.00" r="1.6" fill="#3566c4"/>
<circle cx="124.50" cy="289.00" r="1.6" fill="#3566c4"/>
<circle cx="126.00" cy="293.00" r="1.6" fill="#3566c4"/>
<circle cx="127.75" cy="290.00" r="1.6" fill="#3566c4"/>
<circle cx="128.25" cy="286.00" r="1.6" fill="#3566c4"/>
<circle cx="129.25" cy="285.25" r="1.6" fill="#3566c4"/>
<circle cx="134.75" cy="283.50" r="1.6" fill="#3566c4"/>
<circle cx="136.50" cy="282.25" r="1.6" fill="#3566c4"/>
<circle cx="140.25" cy="277.25" r="1.6" fill="#3566c4"/>
<circle cx="141.75" cy="277.75" r="1.6" fill="#3566c4"/>
<circle cx="143.00" cy="279.00" r="1.6" fill="#3566c4"/>
<circle cx="143.00" cy="281.25" r="1.6" fill="#3566c4"/>
<circle cx="144.50" cy="275.50" r="1.6" fill="#3566c4"/>
</g>
<g>
<path d="M211.20 265.00V365.80M211.20 365.80H354.00M225.48 265.00V365.80M211.20 355.72H354.00M239.76 265.00V365.80M211.20 345.64H354.00M254.04 265.00V365.80M211.20 335.56H354.00M268.32 265.00V365.80M211.20 325.48H354.00M282.60 265.00V365.80M211.20 315.40H354.00M296.88 265.00V365.80M211.20 305.32H354.00M311.16 265.00V365.80M211.20 295.24H354.00M325.44 265.00V365.80M211.20 285.16H354.00M339.72 265.00V365.80M211.20 275.08H354.00M354.00 265.00V365.80M211.20 265.00H354.00" stroke="#eeeeee" stroke-width="0.7" fill="none"/>
<path d="M211.20 265.00V365.80H354.00" stroke="#e6e6e6" stroke-width="0.7" fill="none"/>
<line x1="211.20" y1="365.80" x2="354.00" y2="265.00" stroke="#9fb4e2" stroke-width="0.65"/>
<text class="tk" x="211.20" y="372.50" text-anchor="middle">0.5</text>
<text class="tk" x="207.20" y="367.70" text-anchor="end">0.5</text>
<text class="tk" x="225.48" y="372.50" text-anchor="middle">0.55</text>
<text class="tk" x="207.20" y="357.62" text-anchor="end">0.55</text>
<text class="tk" x="239.76" y="372.50" text-anchor="middle">0.6</text>
<text class="tk" x="207.20" y="347.54" text-anchor="end">0.6</text>
<text class="tk" x="254.04" y="372.50" text-anchor="middle">0.65</text>
<text class="tk" x="207.20" y="337.46" text-anchor="end">0.65</text>
<text class="tk" x="268.32" y="372.50" text-anchor="middle">0.7</text>
<text class="tk" x="207.20" y="327.38" text-anchor="end">0.7</text>
<text class="tk" x="282.60" y="372.50" text-anchor="middle">0.75</text>
<text class="tk" x="207.20" y="317.30" text-anchor="end">0.75</text>
<text class="tk" x="296.88" y="372.50" text-anchor="middle">0.8</text>
<text class="tk" x="207.20" y="307.22" text-anchor="end">0.8</text>
<text class="tk" x="311.16" y="372.50" text-anchor="middle">0.85</text>
<text class="tk" x="207.20" y="297.14" text-anchor="end">0.85</text>
<text class="tk" x="325.44" y="372.50" text-anchor="middle">0.9</text>
<text class="tk" x="207.20" y="287.06" text-anchor="end">0.9</text>
<text class="tk" x="339.72" y="372.50" text-anchor="middle">0.95</text>
<text class="tk" x="207.20" y="276.98" text-anchor="end">0.95</text>
<text class="tk" x="354.00" y="372.50" text-anchor="middle">1</text>
<text class="tk" x="207.20" y="266.90" text-anchor="end">1</text>
<text class="ti" x="282.75" y="380.50" text-anchor="middle">DanQ</text>
<text class="ti" transform="translate(194.10 313.50) rotate(-90)" text-anchor="middle">DeepD2V</text>
<circle cx="221.00" cy="322.50" r="1.6" fill="#3566c4"/>
<circle cx="231.25" cy="316.00" r="1.6" fill="#3566c4"/>
<circle cx="232.25" cy="321.50" r="1.6" fill="#3566c4"/>
<circle cx="240.25" cy="318.75" r="1.6" fill="#3566c4"/>
<circle cx="252.00" cy="313.50" r="1.6" fill="#3566c4"/>
<circle cx="254.75" cy="306.00" r="1.6" fill="#3566c4"/>
<circle cx="258.00" cy="304.25" r="1.6" fill="#3566c4"/>
<circle cx="260.00" cy="309.25" r="1.6" fill="#3566c4"/>
<circle cx="260.00" cy="313.25" r="1.6" fill="#3566c4"/>
<circle cx="260.50" cy="319.00" r="1.6" fill="#3566c4"/>
<circle cx="266.75" cy="297.50" r="1.6" fill="#3566c4"/>
<circle cx="267.00" cy="307.50" r="1.6" fill="#3566c4"/>
<circle cx="269.25" cy="303.00" r="1.6" fill="#3566c4"/>
<circle cx="271.25" cy="302.75" r="1.6" fill="#3566c4"/>
<circle cx="272.25" cy="304.25" r="1.6" fill="#3566c4"/>
<circle cx="278.00" cy="303.75" r="1.6" fill="#3566c4"/>
<circle cx="278.75" cy="298.75" r="1.6" fill="#3566c4"/>
<circle cx="280.75" cy="307.25" r="1.6" fill="#3566c4"/>
<circle cx="287.25" cy="300.25" r="1.6" fill="#3566c4"/>
<circle cx="288.00" cy="297.75" r="1.6" fill="#3566c4"/>
<circle cx="292.00" cy="299.75" r="1.6" fill="#3566c4"/>
<circle cx="295.50" cy="303.50" r="1.6" fill="#3566c4"/>
<circle cx="297.50" cy="293.25" r="1.6" fill="#3566c4"/>
<circle cx="298.50" cy="295.75" r="1.6" fill="#3566c4"/>
<circle cx="300.75" cy="299.25" r="1.6" fill="#3566c4"/>
<circle cx="302.00" cy="297.50" r="1.6" fill="#3566c4"/>
<circle cx="303.50" cy="292.50" r="1.6" fill="#3566c4"/>
<circle cx="306.00" cy="296.25" r="1.6" fill="#3566c4"/>
<circle cx="307.50" cy="291.00" r="1.6" fill="#3566c4"/>
<circle cx="307.75" cy="293.75" r="1.6" fill="#3566c4"/>
<circle cx="309.25" cy="292.00" r="1.6" fill="#3566c4"/>
<circle cx="310.00" cy="287.50" r="1.6" fill="#3566c4"/>
<circle cx="310.75" cy="292.75" r="1.6" fill="#3566c4"/>
<circle cx="311.50" cy="289.50" r="1.6" fill="#3566c4"/>
<circle cx="312.75" cy="287.75" r="1.6" fill="#3566c4"/>
<circle cx="313.00" cy="292.75" r="1.6" fill="#3566c4"/>
<circle cx="314.50" cy="290.75" r="1.6" fill="#3566c4"/>
<circle cx="315.50" cy="288.00" r="1.6" fill="#3566c4"/>
<circle cx="316.75" cy="289.00" r="1.6" fill="#3566c4"/>
<circle cx="318.75" cy="285.50" r="1.6" fill="#3566c4"/>
<circle cx="319.75" cy="283.75" r="1.6" fill="#3566c4"/>
<circle cx="321.25" cy="281.75" r="1.6" fill="#3566c4"/>
<circle cx="324.00" cy="282.50" r="1.6" fill="#3566c4"/>
<circle cx="328.00" cy="280.75" r="1.6" fill="#3566c4"/>
<circle cx="329.50" cy="280.00" r="1.6" fill="#3566c4"/>
<circle cx="333.00" cy="276.75" r="1.6" fill="#3566c4"/>
<circle cx="335.00" cy="276.00" r="1.6" fill="#3566c4"/>
<circle cx="337.25" cy="274.50" r="1.6" fill="#3566c4"/>
</g>
<g>
<path d="M395.50 266.50V367.50M395.50 367.50H538.00M409.75 266.50V367.50M395.50 357.40H538.00M424.00 266.50V367.50M395.50 347.30H538.00M438.25 266.50V367.50M395.50 337.20H538.00M452.50 266.50V367.50M395.50 327.10H538.00M466.75 266.50V367.50M395.50 317.00H538.00M481.00 266.50V367.50M395.50 306.90H538.00M495.25 266.50V367.50M395.50 296.80H538.00M509.50 266.50V367.50M395.50 286.70H538.00M523.75 266.50V367.50M395.50 276.60H538.00M538.00 266.50V367.50M395.50 266.50H538.00" stroke="#eeeeee" stroke-width="0.7" fill="none"/>
<path d="M395.50 266.50V367.50H538.00" stroke="#e6e6e6" stroke-width="0.7" fill="none"/>
<line x1="395.50" y1="367.50" x2="538.00" y2="266.50" stroke="#9fb4e2" stroke-width="0.65"/>
<text class="tk" x="395.50" y="374.50" text-anchor="middle">0.5</text>
<text class="tk" x="391.20" y="369.40" text-anchor="end">0.5</text>
<text class="tk" x="409.75" y="374.50" text-anchor="middle">0.55</text>
<text class="tk" x="391.20" y="359.30" text-anchor="end">0.55</text>
<text class="tk" x="424.00" y="374.50" text-anchor="middle">0.6</text>
<text class="tk" x="391.20" y="349.20" text-anchor="end">0.6</text>
<text class="tk" x="438.25" y="374.50" text-anchor="middle">0.65</text>
<text class="tk" x="391.20" y="339.10" text-anchor="end">0.65</text>
<text class="tk" x="452.50" y="374.50" text-anchor="middle">0.7</text>
<text class="tk" x="391.20" y="329.00" text-anchor="end">0.7</text>
<text class="tk" x="466.75" y="374.50" text-anchor="middle">0.75</text>
<text class="tk" x="391.20" y="318.90" text-anchor="end">0.75</text>
<text class="tk" x="481.00" y="374.50" text-anchor="middle">0.8</text>
<text class="tk" x="391.20" y="308.80" text-anchor="end">0.8</text>
<text class="tk" x="495.25" y="374.50" text-anchor="middle">0.85</text>
<text class="tk" x="391.20" y="298.70" text-anchor="end">0.85</text>
<text class="tk" x="509.50" y="374.50" text-anchor="middle">0.9</text>
<text class="tk" x="391.20" y="288.60" text-anchor="end">0.9</text>
<text class="tk" x="523.75" y="374.50" text-anchor="middle">0.95</text>
<text class="tk" x="391.20" y="278.50" text-anchor="end">0.95</text>
<text class="tk" x="538.00" y="374.50" text-anchor="middle">1</text>
<text class="tk" x="391.20" y="268.40" text-anchor="end">1</text>
<text class="ti" x="466.50" y="382.50" text-anchor="middle">WSCNNLSTM</text>
<text class="ti" transform="translate(377.90 314.50) rotate(-90)" text-anchor="middle">DeepD2V</text>
<circle cx="414.50" cy="323.00" r="1.6" fill="#3566c4"/>
<circle cx="429.50" cy="317.50" r="1.6" fill="#3566c4"/>
<circle cx="435.75" cy="320.50" r="1.6" fill="#3566c4"/>
<circle cx="437.50" cy="324.25" r="1.6" fill="#3566c4"/>
<circle cx="441.25" cy="315.00" r="1.6" fill="#3566c4"/>
<circle cx="443.25" cy="320.50" r="1.6" fill="#3566c4"/>
<circle cx="446.50" cy="307.00" r="1.6" fill="#3566c4"/>
<circle cx="447.25" cy="310.50" r="1.6" fill="#3566c4"/>
<circle cx="448.25" cy="314.75" r="1.6" fill="#3566c4"/>
<circle cx="459.50" cy="305.50" r="1.6" fill="#3566c4"/>
<circle cx="460.50" cy="309.00" r="1.6" fill="#3566c4"/>
<circle cx="464.25" cy="305.50" r="1.6" fill="#3566c4"/>
<circle cx="466.25" cy="304.25" r="1.6" fill="#3566c4"/>
<circle cx="468.00" cy="308.75" r="1.6" fill="#3566c4"/>
<circle cx="475.50" cy="301.75" r="1.6" fill="#3566c4"/>
<circle cx="476.00" cy="300.25" r="1.6" fill="#3566c4"/>
<circle cx="477.00" cy="299.00" r="1.6" fill="#3566c4"/>
<circle cx="479.75" cy="305.25" r="1.6" fill="#3566c4"/>
<circle cx="481.00" cy="299.50" r="1.6" fill="#3566c4"/>
<circle cx="481.75" cy="301.50" r="1.6" fill="#3566c4"/>
<circle cx="483.50" cy="300.00" r="1.6" fill="#3566c4"/>
<circle cx="484.25" cy="297.25" r="1.6" fill="#3566c4"/>
<circle cx="486.75" cy="298.25" r="1.6" fill="#3566c4"/>
<circle cx="488.50" cy="294.75" r="1.6" fill="#3566c4"/>
<circle cx="492.00" cy="294.50" r="1.6" fill="#3566c4"/>
<circle cx="493.75" cy="292.75" r="1.6" fill="#3566c4"/>
<circle cx="495.00" cy="292.25" r="1.6" fill="#3566c4"/>
<circle cx="496.25" cy="294.75" r="1.6" fill="#3566c4"/>
<circle cx="497.75" cy="293.50" r="1.6" fill="#3566c4"/>
<circle cx="498.75" cy="289.25" r="1.6" fill="#3566c4"/>
<circle cx="500.00" cy="290.25" r="1.6" fill="#3566c4"/>
<circle cx="500.50" cy="294.00" r="1.6" fill="#3566c4"/>
<circle cx="502.50" cy="291.50" r="1.6" fill="#3566c4"/>
<circle cx="504.25" cy="286.75" r="1.6" fill="#3566c4"/>
<circle cx="505.00" cy="285.75" r="1.6" fill="#3566c4"/>
<circle cx="506.75" cy="283.25" r="1.6" fill="#3566c4"/>
<circle cx="509.25" cy="284.25" r="1.6" fill="#3566c4"/>
<circle cx="513.75" cy="282.75" r="1.6" fill="#3566c4"/>
<circle cx="515.25" cy="282.00" r="1.6" fill="#3566c4"/>
<circle cx="517.75" cy="279.00" r="1.6" fill="#3566c4"/>
<circle cx="519.25" cy="278.25" r="1.6" fill="#3566c4"/>
<circle cx="520.25" cy="277.00" r="1.6" fill="#3566c4"/>
<circle cx="521.00" cy="276.00" r="1.6" fill="#3566c4"/>
</g>
</svg>
<div class="cap" id="cap0" style="left:15.60px;top:392.00px;transform:scaleX(1.0087)">(a) DeepD2V vs DeepBind</div>
<div class="cap" id="cap1" style="left:210.80px;top:392.00px;transform:scaleX(1.0176)">(b) DeepD2V vs DanQ</div>
<div class="cap" id="cap2" style="left:370.80px;top:392.00px;transform:scaleX(1.0013)">(c) DeepD2V vs WSCNNLSTM</div>
</body></html>
